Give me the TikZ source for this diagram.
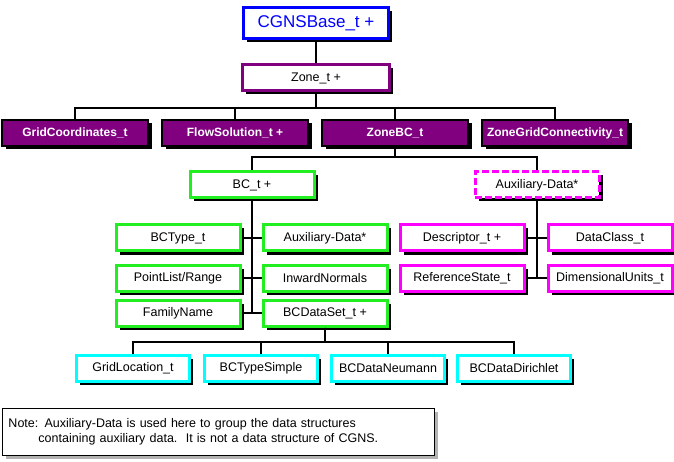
\documentclass[tikz,border=0pt]{standalone}
\usepackage{fontspec}
\setmainfont{Liberation Sans}
\usetikzlibrary{shadows}
\definecolor{zonepurple}{HTML}{800080}
\definecolor{bcgreen}{HTML}{22EE22}
\definecolor{auxmagenta}{HTML}{FF00FF}
\definecolor{dscyan}{HTML}{00FFFF}
\begin{document}
\begin{tikzpicture}[x=1pt,y=-1pt,
    box/.style={rectangle, draw, line width=3pt, fill=white, minimum height=26pt, inner sep=0pt,
        font=\fontsize{12.5}{13}\selectfont,
        drop shadow={shadow xshift=3.5pt, shadow yshift=-3.5pt, fill=black, opacity=1}},
    base/.style={box, draw=blue, text=blue, minimum width=145pt, minimum height=31pt, font=\fontsize{17}{18}\selectfont},
    zone/.style={box, draw=zonepurple, minimum width=147pt},
    child/.style={box, draw=black, line width=2pt, fill=zonepurple, text=white, minimum width=146pt, font=\bfseries\fontsize{12}{13}\selectfont},
    bcbox/.style={box, draw=bcgreen, minimum width=124pt},
    auxbox/.style={box, draw=auxmagenta, minimum width=124pt},
    dsbox/.style={box, draw=dscyan, minimum width=113pt},
    link/.style={line width=2pt}
]
\useasboundingbox (0,0) rectangle (674,462);

% Top levels
\node[base] (base) at (316,23) {CGNSBase\_t +};
\node[zone] (zone) at (316,78) {Zone\_t +};

% Zone children
\node[child] (grid) at (75,133) {GridCoordinates\_t};
\node[child] (flow) at (235,133) {FlowSolution\_t +};
\node[child] (zbc) at (395,133) {ZoneBC\_t};
\node[child] (conn) at (555,133) {ZoneGridConnectivity\_t};

% ZoneBC children
\node[bcbox] (bc) at (252,185) {BC\_t +};
\node[auxbox, dash pattern=on 7pt off 3pt] (aux) at (537,185) {Auxiliary-Data*};

% BC_t children
\node[bcbox] (bctype) at (178,238) {BCType\_t};
\node[bcbox] (bcaux) at (325,238) {Auxiliary-Data*};
\node[bcbox] (ptlist) at (178,278) {PointList/Range};
\node[bcbox] (inward) at (325,278) {InwardNormals};
\node[bcbox] (family) at (178,313) {FamilyName};
\node[bcbox] (dataset) at (325,313) {BCDataSet\_t +};

% Auxiliary-Data children
\node[auxbox] (descr) at (462,238) {Descriptor\_t +};
\node[auxbox] (dclass) at (610,238) {DataClass\_t};
\node[auxbox] (refst) at (462,278) {ReferenceState\_t};
\node[auxbox] (dimu) at (610,278) {DimensionalUnits\_t};

% BCDataSet_t children
\node[dsbox] (gloc) at (133,368) {GridLocation\_t};
\node[dsbox] (tsimple) at (261,368) {BCTypeSimple};
\node[dsbox] (neum) at (388,368) {BCDataNeumann};
\node[dsbox] (diri) at (514,368) {BCDataDirichlet};

% Note
\node[draw, line width=1pt, fill=white, minimum width=432pt, minimum height=47pt, anchor=north west,
    align=left, text width=420pt, inner sep=5pt, font=\fontsize{12.5}{15}\selectfont,
    drop shadow={shadow xshift=3pt, shadow yshift=-3pt, fill=gray!60, opacity=1}] (note) at (2,408)
    {Note: Auxiliary-Data is used here to group the data structures\\
    \hspace*{30pt}containing auxiliary data.\ \ It is not a data structure of CGNS.};

% Connectors
\draw[link] (base.south) -- (zone.north);
\foreach \c in {grid,flow,zbc,conn}
    \draw[link] (zone.south) -- ++(0,16) -| (\c.north);
\foreach \c in {bc,aux}
    \draw[link] (zbc.south) -- ++(0,10) -| (\c.north);
\draw[link] (bc.south) -- (bc.south |- family.east);
\foreach \a/\b in {bctype/bcaux,ptlist/inward,family/dataset,descr/dclass,refst/dimu}
    \draw[link] (\a.east) -- (\b.west);
\draw[link] (aux.south) -- (aux.south |- refst.east);
\foreach \c in {gloc,tsimple,neum,diri}
    \draw[link] (dataset.south) -- ++(0,14) -| (\c.north);

\end{tikzpicture}
\end{document}
